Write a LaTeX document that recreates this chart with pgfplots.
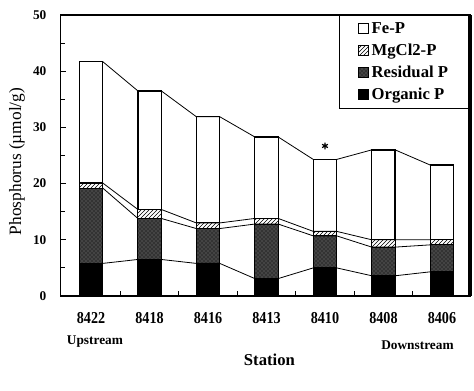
\documentclass[border=0pt]{standalone}
\usepackage{fontspec}
\setmainfont{Liberation Serif}
\newfontfamily\tickfont{Liberation Serif}[FakeStretch=0.85]
\usepackage{pgfplots}
\pgfplotsset{compat=1.18}
\usepackage{pgfplotstable}
\usetikzlibrary{patterns}

\pgfplotstableread{
x org res mg fe
0 5.8 13.4 0.9 21.6
1 6.5 7.3 1.6 21.1
2 5.8 6.2 1.0 18.9
3 3.1 9.7 1.0 14.5
4 5.0 5.7 0.8 12.8
5 3.6 5.1 1.3 16.0
6 4.3 4.8 0.9 13.3
}\bars

\pgfplotstableread{
x c1 c2 c3 c4
0.2 5.8 19.2 20.1 41.7
0.8 6.5 13.8 15.4 36.5
1.2 6.5 13.8 15.4 36.5
1.8 5.8 12.0 13.0 31.9
2.2 5.8 12.0 13.0 31.9
2.8 3.1 12.8 13.8 28.3
3.2 3.1 12.8 13.8 28.3
3.8 5.0 10.7 11.5 24.3
4.2 5.0 10.7 11.5 24.3
4.8 3.6 8.7 10.0 26.0
5.2 3.6 8.7 10.0 26.0
5.8 4.3 9.1 10.0 23.3
}\edges

\pgfplotsset{base/.style={scale only axis, width=307pt, height=210.75pt,
  xmin=-0.52, xmax=6.48, ymin=0, ymax=50, at={(0,0)}, anchor=south west}}

\begin{document}
\begin{tikzpicture}
\path[use as bounding box] (-45.5pt,-71.25pt) rectangle (310pt,222pt);
\begin{axis}[base, ybar stacked, bar width=0.4, clip mode=individual,
  axis line style={line width=0.9pt},
  tick pos=left, tick align=inside,
  xtick={0,...,6}, xticklabels={8422,8418,8416,8413,8410,8408,8406},
  major x tick style={draw=none},
  minor xtick={0.5,1.5,2.5,3.5,4.5,5.5},
  ytick={0,10,...,50}, minor ytick={5,15,25,35,45},
  major tick length=4pt, minor tick length=3.5pt,
  tick style={line width=0.6pt, black},
  /pgf/number format/assume math mode=true,
  yticklabel style={font=\bfseries\fontsize{10}{12}\selectfont, inner sep=0pt, xshift=-10.5pt},
  xticklabel style={font=\tickfont\bfseries\fontsize{12.5}{14}\selectfont, inner sep=0pt, yshift=-12pt},
  ylabel={Phosphorus (µmol/g)},
  ylabel style={at={(axis description cs:-0.107,0.479)}, anchor=center, font=\fontsize{13}{15}\selectfont},
  xlabel={Station},
  xlabel style={at={(axis description cs:0.51,0)}, yshift=-48pt, anchor=center, font=\bfseries\fontsize{12.5}{14}\selectfont},
  legend cell align=left, reverse legend,
  legend image code/.code={\draw[#1, line width=0.6pt] (0pt,-3.5pt) rectangle (7.5pt,4pt);},
  legend style={at={(1,1)}, anchor=north east, draw=black, line width=0.9pt, inner xsep=14pt, inner ysep=3pt,
    font=\bfseries\fontsize{12.5}{14}\selectfont, row sep=2.5pt,
    /tikz/every even column/.append style={column sep=0pt}},
]
\addplot[fill=black, draw=black, line width=0.8pt] table[x=x,y=org]{\bars};
\addplot[fill=black!80, draw=black, line width=0.8pt, postaction={pattern=crosshatch dots, pattern color=black!50}] table[x=x,y=res]{\bars};
\addplot[fill=white, draw=black, line width=0.8pt, postaction={pattern=north east lines}] table[x=x,y=mg]{\bars};
\addplot[fill=white, draw=black, line width=1pt] table[x=x,y=fe]{\bars};
\legend{Organic P, Residual P, MgCl2-P, Fe-P}
\node[font=\bfseries\fontsize{10}{12}\selectfont, yshift=-34.5pt] at (axis description cs:0.0838,0) {Upstream};
\node[font=\bfseries\fontsize{10}{12}\selectfont, yshift=-36.75pt] at (axis description cs:0.8717,0) {Downstream};
\end{axis}
\begin{axis}[base, hide axis, clip=false]
\addplot[black, line width=0.6pt, mark=none] table[x=x,y=c1]{\edges};
\addplot[black, line width=0.6pt, mark=none] table[x=x,y=c2]{\edges};
\addplot[black, line width=0.6pt, mark=none] table[x=x,y=c3]{\edges};
\addplot[black, line width=0.6pt, mark=none] table[x=x,y=c4]{\edges};
\addplot[only marks, mark=asterisk, mark size=2.5pt, line width=0.9pt, black] coordinates {(4,26.7)};
\draw[line width=2.5pt] (rel axis cs:1,0) -- (rel axis cs:1,1);
\end{axis}
\end{tikzpicture}
\end{document}
